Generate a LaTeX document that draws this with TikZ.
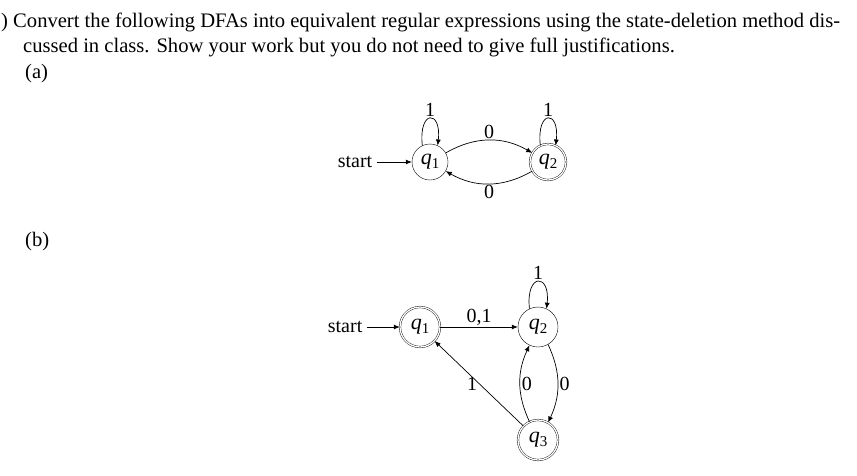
\documentclass[tikz,border=0pt]{standalone}
\usepackage{fontspec}
\setmainfont{Liberation Serif}
\usetikzlibrary{arrows.meta}
\newcommand{\qs}[1]{{\itshape q}\raisebox{-0.35ex}{\fontsize{15}{15}\selectfont #1}}
\begin{document}
\begin{tikzpicture}[x=1pt,y=-1pt,
  st/.style={circle,draw,minimum size=36pt,inner sep=0pt,font=\fontsize{22}{22}\selectfont},
  stb/.style={st,minimum size=40pt},
  acc/.style={double,double distance=1.3pt},
  lbl/.style={font=\fontsize{20}{20}\selectfont,inner sep=1.5pt},
  ed/.style={-{Latex[length=6pt,width=5pt]},line width=0.7pt},
  txt/.style={font=\fontsize{20.6}{22}\selectfont,anchor=base west,inner sep=0pt}]
\useasboundingbox (0,0) rectangle (857,475);
\node[txt] (l1) at (1,27) {) Convert the following DFAs into equivalent regular expressions using the state-deletion method dis-};
\node[txt] (l2) at (23,52) {cussed in class. Show your work but you do not need to give full justifications.};
\node[txt] (pa) at (25,78) {(a)};
\node[txt] (pb) at (25,246) {(b)};
% (a)
\node[st] (a1) at (430,162) {\qs{1}};
\node[st,acc] (a2) at (548,162) {\qs{2}};
\node[lbl,anchor=east] (as) at (374,162) {start};
\draw[ed] (as.east) ++(3,0) -- (a1);
\draw[ed] (a1.115) .. controls +(-4,-36) and +(4,-36) .. node[lbl,above]{1} (a1.65);
\draw[ed] (a2.115) .. controls +(-4,-36) and +(4,-36) .. node[lbl,above]{1} (a2.65);
\draw[ed] (a1) to[bend left=30] node[lbl,above]{0} (a2);
\draw[ed] (a2) to[bend left=30] node[lbl,below]{0} (a1);
% (b)
\node[stb,acc] (b1) at (420,327) {\qs{1}};
\node[stb] (b2) at (538,327) {\qs{2}};
\node[stb,acc] (b3) at (538,440) {\qs{3}};
\node[lbl,anchor=east] (bs) at (364,327) {start};
\draw[ed] (bs.east) ++(3,0) -- (b1);
\draw[ed] (b2.115) .. controls +(-4,-36) and +(4,-36) .. node[lbl,above]{1} (b2.65);
\draw[ed] (b1) -- node[lbl,above]{0,1} (b2);
\draw[ed] (b3) -- node[lbl,left,pos=0.5]{1} (b1);
\draw[ed] (b3.115) to[bend left=25] node[lbl,right,pos=0.5]{0} (b2.245);
\draw[ed] (b2.-60) to[bend left=25] node[lbl,right]{0} (b3.60);
\end{tikzpicture}
\end{document}
